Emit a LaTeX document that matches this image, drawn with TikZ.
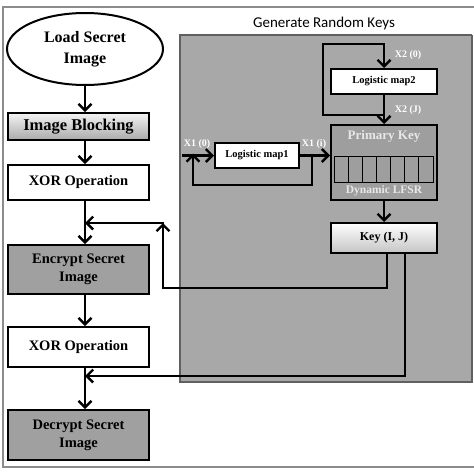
\documentclass[tikz,border=0pt]{standalone}
\usepackage{fontspec}
\setmainfont{Liberation Serif}
\newfontfamily\titlefamily{Carlito}
\usetikzlibrary{arrows.meta,shapes.geometric}

\begin{document}
\begin{tikzpicture}[x=1pt,y=-1pt,line cap=rect,
	flowbox/.style={draw=custcol_0_0_0, line width=2.0pt, inner sep=0, minimum width=141pt, align=center},
	keybox/.style={draw=custcol_0_0_0, line width=2.0pt, inner sep=0, minimum width=106pt, align=center},
	wire/.style={line width=2.5pt, custcol_0_0_0, -{Straight Barb[length=6.5pt,width=13pt,line width=2.4pt]}},
	plainwire/.style={line width=2.5pt, custcol_0_0_0},
	keylabel/.style={inner sep=0, custcol_ff_ff_ff, font=\fontsize{10pt}{10pt}\bfseries\selectfont}]
	\definecolor{custcol_0_0_0}{RGB}{0, 0, 0}
	\definecolor{custcol_ff_ff_ff}{RGB}{255, 255, 255}
	\definecolor{custcol_a8_a8_a8}{RGB}{168, 168, 168}
	\definecolor{custcol_a0_a0_a0}{RGB}{160, 160, 160}
	\definecolor{custcol_9e_9e_9e}{RGB}{158, 158, 158}
	\definecolor{custcol_60_60_60}{RGB}{96, 96, 96}
	\definecolor{custcol_8c_8c_8c}{RGB}{140, 140, 140}
	\definecolor{custcol_e8_e8_e8}{RGB}{232, 232, 232}
	\definecolor{custcol_f4_f4_f4}{RGB}{244, 244, 244}
	\definecolor{custcol_aa_aa_aa}{RGB}{170, 170, 170}
	\definecolor{custcol_c4_c4_c4}{RGB}{196, 196, 196}
	\useasboundingbox [fill=custcol_ff_ff_ff] (0,0) rectangle (474,474);
	\draw [line width=1.5pt, custcol_8c_8c_8c] (480,7) -- (3,7) -- (3,467) -- (480,467);
	% key generator area
	\filldraw [fill=custcol_a8_a8_a8, draw=custcol_60_60_60, line width=1.2pt, dash pattern=on 2pt off 1.5pt] (180,35) rectangle (472,382);
	\node[inner sep=0, font=\titlefamily\fontsize{15pt}{15pt}\selectfont] (gentitle) at (324,23) {Generate Random Keys};
	% main flow
	\node[ellipse, draw=custcol_0_0_0, line width=2.0pt, fill=custcol_ff_ff_ff, minimum width=156pt, minimum height=72pt, inner sep=0, align=center, font=\fontsize{16pt}{21pt}\bfseries\selectfont] (load) at (85,49) {Load Secret\\Image};
	\node[flowbox, minimum height=27pt, top color=custcol_f4_f4_f4, bottom color=custcol_aa_aa_aa, font=\fontsize{16.5pt}{16.5pt}\bfseries\selectfont] (blocking) at (78.5,126.5) {Image Blocking};
	\node[flowbox, minimum height=35pt, fill=custcol_ff_ff_ff, font=\fontsize{14.5pt}{18pt}\bfseries\selectfont] (xorA) at (78.5,182.5) {XOR Operation};
	\node[flowbox, minimum height=49pt, fill=custcol_a0_a0_a0, font=\fontsize{14.5pt}{18pt}\bfseries\selectfont] (encrypt) at (78.5,269.5) {Encrypt Secret\\Image};
	\node[flowbox, minimum height=40pt, fill=custcol_ff_ff_ff, font=\fontsize{14.5pt}{18pt}\bfseries\selectfont] (xorB) at (78.5,347) {XOR Operation};
	\node[flowbox, minimum height=50pt, fill=custcol_a0_a0_a0, font=\fontsize{14.5pt}{18pt}\bfseries\selectfont] (decrypt) at (78.5,435) {Decrypt Secret\\Image};
	\draw [wire] (load.south) -- (load.south |- blocking.north);
	\draw [wire] (load.south |- blocking.south) -- (load.south |- xorA.north);
	\draw [wire] (load.south |- xorA.south) -- (load.south |- encrypt.north);
	\draw [wire] (load.south |- encrypt.south) -- (load.south |- xorB.north);
	\draw [wire] (load.south |- xorB.south) -- (load.south |- decrypt.north);
	% logistic maps
	\node[keybox, minimum height=25pt, fill=custcol_ff_ff_ff, font=\fontsize{10.5pt}{10.5pt}\bfseries\selectfont] (lmapB) at (384,81.5) {Logistic map2};
	\node[keybox, minimum width=84pt, minimum height=25pt, fill=custcol_ff_ff_ff, font=\fontsize{10.5pt}{10.5pt}\bfseries\selectfont] (lmapA) at (257,155.5) {Logistic map1};
	\node[keybox, minimum height=75pt, fill=custcol_9e_9e_9e] (pkey) at (384,162.5) {};
	\node[inner sep=0, custcol_e8_e8_e8, font=\fontsize{13pt}{13pt}\bfseries\selectfont] (pkeytitle) at (384,136) {Primary Key};
	\node[inner sep=0, custcol_e8_e8_e8, font=\fontsize{11.5pt}{11.5pt}\bfseries\selectfont] (lfsr) at (384,190.5) {Dynamic LFSR};
	\foreach \i in {0,...,6}
		\draw [line width=0.8pt, custcol_0_0_0] (334+\i*14.14,156) rectangle ++(14.14,26);
	\node[keybox, minimum height=30pt, top color=custcol_ff_ff_ff, bottom color=custcol_c4_c4_c4, font=\fontsize{12pt}{12pt}\bfseries\selectfont] (keyij) at (384,238) {Key (I, J)};
	\node[keylabel] (xAzero) at (197,144) {X1 (0)};
	\node[keylabel] (xAi) at (314,144) {X1 (i)};
	\node[keylabel] (xBzero) at (408,55) {X2 (0)};
	\node[keylabel] (xBj) at (408,110) {X2 (J)};
	\coordinate (lmBtop) at (323,44);
	\coordinate (lmBlow) at (323,115);
	\coordinate (xAin) at (183,155.5);
	\coordinate (lmAtap) at (312,155.5);
	\coordinate (lmAlow) at (193,185);
	\draw [wire] (lmapB.south |- lmBlow) -| (lmBtop) -| (lmapB.north);
	\draw [wire] (lmapB.south) -- (lmapB.south |- pkey.north);
	\draw [wire] (xAin) -- (lmapA.west);
	\draw [wire] (lmapA.east) -- (lmapA.east -| pkey.west);
	\draw [wire] (lmAtap) |- (lmAlow) -- ([yshift=2pt]lmAlow |- lmapA.west);
	\draw [wire] (pkey.south) -- (keyij.north);
	% keys back to the flow
	\coordinate (encdrop) at (387,288);
	\coordinate (encrise) at (163,223);
	\coordinate (encjoin) at (85,223);
	\coordinate (decdrop) at (405,376);
	\coordinate (decjoin) at (85,376);
	\draw [wire] (keyij.south -| encdrop) -- (encdrop) -| (encrise);
	\draw [wire] (encrise) -- (encjoin);
	\draw [wire] (keyij.south -| decdrop) -- (decdrop) -- (decjoin);
\end{tikzpicture}
\end{document}
